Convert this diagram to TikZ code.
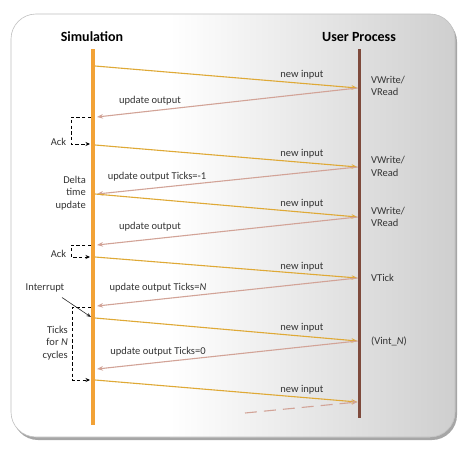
\documentclass[tikz,border=0pt]{standalone}
\usepackage{fontspec}
\setmainfont{Carlito}
\usetikzlibrary{arrows.meta}
\definecolor{simorange}{HTML}{F2A236}
\definecolor{userbrown}{HTML}{7E4A3C}
\definecolor{inyellow}{HTML}{DFA936}
\definecolor{outpink}{HTML}{D2A397}
\definecolor{txt}{HTML}{333333}
\begin{document}
\begin{tikzpicture}[x=1pt,y=-1pt,
  lbl/.style={font=\fontsize{10.5}{12.5}\selectfont, inner sep=0pt, text=txt},
  ttl/.style={font=\bfseries\fontsize{14}{16}\selectfont, inner sep=0pt, text=black},
  inarrow/.style={draw=inyellow, line width=1.1pt, -{Stealth[length=6pt,width=4.5pt]}},
  outarrow/.style={draw=outpink, line width=1.1pt, -{Stealth[length=6pt,width=4.5pt]}},
  ackline/.style={draw=black, line width=1pt, dash pattern=on 3.5pt off 2.2pt, -{Stealth[length=4.5pt,width=4pt]}},
  lifeline/.style={line width=3.5pt}]
\useasboundingbox (0,0) rectangle (474,455);
% panel
\fill[black!35, rounded corners=25pt] (13,17) rectangle (457,440);
\begin{scope}
  \clip[rounded corners=25pt] (11,14) rectangle (455,437);
  \fill[white] (0,0) rectangle (474,455);
  \shade[left color=white, right color=black!19] (170,0) rectangle (456,455);
\end{scope}
\draw[black!25, line width=0.6pt, rounded corners=25pt] (11,14) rectangle (455,437);
% titles
\node[ttl] (tsim) at (92,37) {Simulation};
\node[ttl] (tusr) at (359,37) {User Process};
% lifelines
\coordinate (simtop) at (93,49);
\coordinate (simbot) at (93,425);
\coordinate (usrtop) at (359.5,49);
\coordinate (usrbot) at (359.5,418);
\draw[lifeline, simorange] (simtop) -- (simbot);
\draw[lifeline, userbrown, line width=3pt] (usrtop) -- (usrbot);
% sim side points
\coordinate (a1) at (95,66);
\coordinate (b1) at (97,117);
\coordinate (a2) at (95,145);
\coordinate (b2) at (97,194);
\coordinate (a3) at (95,194);
\coordinate (b3) at (97,245);
\coordinate (a4) at (95,257);
\coordinate (b4) at (97,306);
\coordinate (a5) at (95,318);
\coordinate (b5) at (97,369);
\coordinate (a6) at (95,380);
% user side points
\coordinate (u1) at (357.5,88);
\coordinate (u2) at (357.5,167);
\coordinate (u3) at (357.5,217);
\coordinate (u4) at (357.5,278);
\coordinate (u5) at (357.5,341);
\coordinate (u6) at (357.5,402);
% messages
\draw[inarrow] (a1) -- (u1);
\draw[outarrow] (u1) -- (b1);
\draw[inarrow] (a2) -- (u2);
\draw[outarrow] (u2) -- (b2);
\draw[inarrow] (a3) -- (u3);
\draw[outarrow] (u3) -- (b3);
\draw[inarrow] (a4) -- (u4);
\draw[outarrow] (u4) -- (b4);
\draw[inarrow] (a5) -- (u5);
\draw[outarrow] (u5) -- (b5);
\draw[inarrow] (a6) -- (u6);
\coordinate (dstart) at (245,413);
\draw[draw=outpink, line width=1.1pt, dash pattern=on 12pt off 7pt, -{Stealth[length=6pt,width=4.5pt]}] (dstart) -- (u6);
% message labels
\node[lbl] (n1) at (302,75) {new input};
\node[lbl] (o1) at (150,101) {update output};
\node[lbl] (n2) at (302,154) {new input};
\node[lbl] (o2) at (157,177) {update output Ticks=-1};
\node[lbl] (n3) at (302,204) {new input};
\node[lbl] (o3) at (150,227) {update output};
\node[lbl] (n4) at (302,267) {new input};
\node[lbl] (o4) at (158,288) {update output Ticks=\textit{N}};
\node[lbl] (n5) at (302,328) {new input};
\node[lbl] (o5) at (158,352) {update output Ticks=0};
\node[lbl] (n6) at (302,390) {new input};
% user side labels
\node[lbl, anchor=west, align=left] (r1) at (371,86) {VWrite/\\VRead};
\node[lbl, anchor=west, align=left] (r2) at (371,166.5) {VWrite/\\VRead};
\node[lbl, anchor=west, align=left] (r3) at (371,217) {VWrite/\\VRead};
\node[lbl, anchor=west] (r4) at (371,278) {VTick};
\node[lbl, anchor=west] (r5) at (371,341) {(Vint\_\textit{N})};
% Ack loops
\coordinate (k1a) at (91,117);
\coordinate (k1b) at (71,117);
\coordinate (k1c) at (71,144);
\coordinate (k1d) at (90,144);
\draw[ackline] (k1a) -- (k1b) -- (k1c) -- (k1d);
\node[lbl] (ack1) at (58.5,142) {Ack};
\coordinate (k2a) at (91,245);
\coordinate (k2b) at (71,245);
\coordinate (k2c) at (71,257);
\coordinate (k2d) at (90,257);
\draw[ackline] (k2a) -- (k2b) -- (k2c) -- (k2d);
\node[lbl] (ack2) at (58.5,254) {Ack};
% delta time update
\node[lbl, anchor=north east, align=right, font=\fontsize{10.5}{12.5}\selectfont] (dtu) at (86,176) {Delta\\time\\update};
% Ticks for N cycles
\coordinate (k3a) at (91,307);
\coordinate (k3b) at (72,307);
\coordinate (k3c) at (72,380);
\coordinate (k3d) at (90,380);
\draw[ackline] (k3a) -- (k3b) -- (k3c) -- (k3d);
\node[lbl, anchor=north east, align=right, font=\fontsize{10.5}{12.5}\selectfont] (tnc) at (68,326) {Ticks\\for \textit{N}\\cycles};
% Interrupt
\node[lbl] (intr) at (45,288) {Interrupt};
\coordinate (itip) at (91,317);
\draw[black!85, line width=0.6pt, -{Stealth[length=4.5pt,width=3.5pt]}] (62,297.5) -- (itip);
\end{tikzpicture}
\end{document}
